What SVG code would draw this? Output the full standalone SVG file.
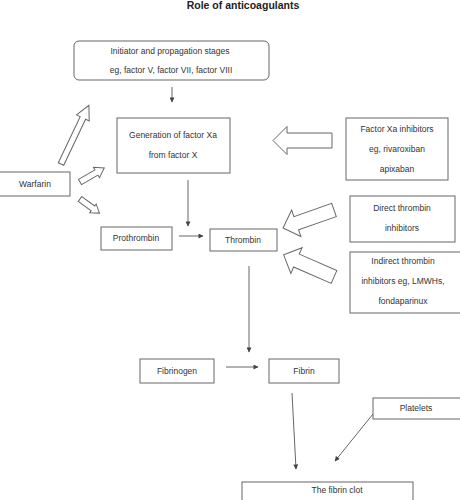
<svg xmlns="http://www.w3.org/2000/svg" width="460" height="500" viewBox="0 0 460 500">
<defs>
<style>
.box{fill:#fff;stroke:#666;stroke-width:1}
.t{font-family:"Liberation Sans",Arial,sans-serif;font-size:8.5px;fill:#333;text-anchor:middle;dominant-baseline:central}
.title{font-family:"Liberation Sans",Arial,sans-serif;font-size:10.5px;font-weight:bold;fill:#222;text-anchor:middle;dominant-baseline:central}
.ln{stroke:#555;stroke-width:0.9;fill:none;marker-end:url(#ah)}
.hollow{fill:#fff;stroke:#666;stroke-width:1;stroke-linejoin:miter}
</style>
<marker id="ah" viewBox="0 0 10 10" refX="9" refY="5" markerWidth="6" markerHeight="5" orient="auto" markerUnits="userSpaceOnUse">
<path d="M0,0 L10,5 L0,10 z" fill="#444"/>
</marker>
</defs>
<rect width="460" height="500" fill="#fff"/>
<text class="title" x="243" y="5">Role of anticoagulants</text>

<g id="initiator"><rect class="box" x="74" y="41" width="195" height="39" rx="5"/>
<text class="t" x="170" y="51">Initiator and propagation stages</text>
<text class="t" x="171" y="70">eg, factor V, factor VII, factor VIII</text></g>

<g id="generation"><rect class="box" x="117" y="118" width="113" height="55"/>
<text class="t" x="173" y="135">Generation of factor Xa</text>
<text class="t" x="173" y="155">from factor X</text></g>

<g id="warfarin"><rect class="box" x="-2" y="172" width="72" height="24"/>
<text class="t" x="35" y="184">Warfarin</text></g>

<g id="prothrombin"><rect class="box" x="101" y="227" width="71" height="23"/>
<text class="t" x="136" y="238">Prothrombin</text></g>

<g id="thrombin"><rect class="box" x="210" y="229" width="67" height="22"/>
<text class="t" x="243" y="240">Thrombin</text></g>

<g id="xa-inhibitors"><rect class="box" x="346" y="118" width="102" height="62"/>
<text class="t" x="397" y="129">Factor Xa inhibitors</text>
<text class="t" x="397" y="149">eg, rivaroxiban</text>
<text class="t" x="397" y="169">apixaban</text></g>

<g id="direct"><rect class="box" x="350" y="196" width="105" height="46"/>
<text class="t" x="402" y="208">Direct thrombin</text>
<text class="t" x="402" y="228">inhibitors</text></g>

<g id="indirect"><rect class="box" x="350" y="252" width="112" height="61"/>
<text class="t" x="403" y="261">Indirect thrombin</text>
<text class="t" x="403" y="281">inhibitors eg, LMWHs,</text>
<text class="t" x="403" y="301">fondaparinux</text></g>

<g id="fibrinogen"><rect class="box" x="140" y="359" width="74" height="24"/>
<text class="t" x="177" y="371">Fibrinogen</text></g>

<g id="fibrin"><rect class="box" x="269" y="359" width="70" height="24"/>
<text class="t" x="304" y="371">Fibrin</text></g>

<g id="platelets"><rect class="box" x="373" y="398" width="90" height="21"/>
<text class="t" x="416" y="408">Platelets</text></g>

<g id="clot"><rect class="box" x="242" y="482" width="171" height="22"/>
<text class="t" x="337" y="490">The fibrin clot</text></g>

<g id="connectors">
<line class="ln" x1="172" y1="87" x2="172" y2="102"/>
<line class="ln" x1="188" y1="180" x2="188" y2="226"/>
<line class="ln" x1="179" y1="236" x2="203" y2="236"/>
<line class="ln" x1="249" y1="266" x2="249" y2="352"/>
<line class="ln" x1="226" y1="367" x2="258" y2="367"/>
<line class="ln" x1="292" y1="393" x2="296" y2="469"/>
<line class="ln" x1="373" y1="414" x2="335" y2="461"/>
<path class="hollow" transform="translate(61,164) rotate(-64.6)" d="M0,-3 L51,-3 L51,-7 L65,0 L51,7 L51,3 L0,3 z"/>
<path class="hollow" transform="translate(80,182) rotate(-30)" d="M0,-3 L19,-3 L19,-6 L28,0 L19,6 L19,3 L0,3 z"/>
<path class="hollow" transform="translate(80,199) rotate(36)" d="M0,-3 L16,-3 L16,-5.5 L24,0 L16,5.5 L16,3 L0,3 z"/>
<path class="hollow" transform="translate(332,140.5) rotate(180)" d="M0,-7.5 L45,-7.5 L45,-14 L59,0 L45,14 L45,7.5 L0,7.5 z"/>
<path class="hollow" transform="translate(334,210) rotate(160.6)" d="M0,-7 L40,-7 L40,-14 L54,0 L40,14 L40,7 L0,7 z"/>
<path class="hollow" transform="translate(334,277) rotate(203.7)" d="M0,-7 L41,-7 L41,-14 L55,0 L41,14 L41,7 L0,7 z"/>
</g>
</svg>
